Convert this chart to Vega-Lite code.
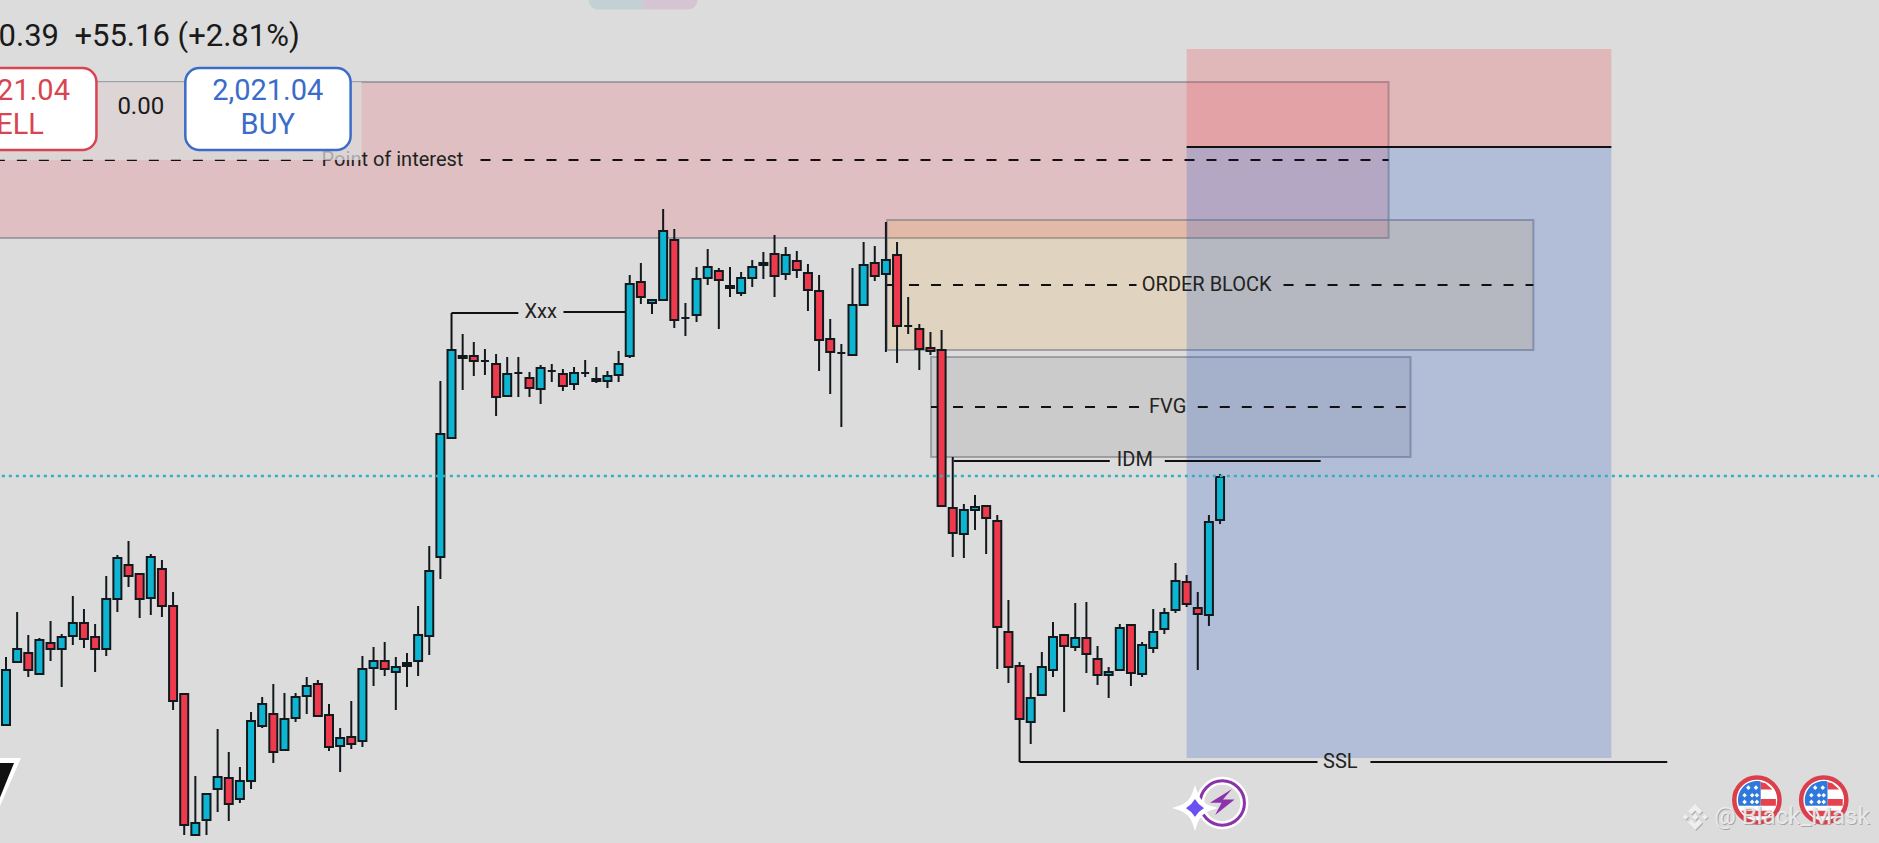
{"$schema":"https://vega.github.io/schema/vega-lite/v6.json","width":1879,"height":843,"padding":0,"autosize":{"type":"none"},"background":"#dcdcdc","config":{"view":{"stroke":null},"text":{"font":"Roboto"}},
"datasets":{
"zones":[{"zone":"Point of interest","x":-1,"x2":124.13,"y":2060.4,"y2":2044.8},{"zone":"Order block","x":79.1,"x2":137.13,"y":2046.6,"y2":2033.6},{"zone":"FVG","x":83.05,"x2":126.1,"y":2032.9,"y2":2022.9},{"zone":"Stop","x":106,"x2":144.13,"y":2063.7,"y2":2053.9},{"zone":"Target","x":106,"x2":144.13,"y":2053.9,"y2":1992.8}],
"dashed":[{"x":-1,"x2":27.7,"y":2052.6},{"x":42.6,"x2":124.13,"y":2052.6},{"x":79.1,"x2":101.5,"y":2040.1},{"x":114.7,"x2":137.13,"y":2040.1},{"x":83.05,"x2":101.8,"y":2027.9},{"x":107,"x2":126.1,"y":2027.9}],
"solid":[{"x":40,"x2":46,"y":2037.3},{"x":50.05,"x2":55.6,"y":2037.4},{"x":85.1,"x2":99.1,"y":2022.5},{"x":104.04,"x2":118.03,"y":2022.5},{"x":91,"x2":117.75,"y":1992.4},{"x":122.5,"x2":149.15,"y":1992.4},{"x":106,"x2":144.13,"y":2053.9}],
"vertical":[{"x":40,"y":2037.3,"y2":2033.6},{"x":85,"y":2022.9,"y2":2017.8},{"x":91,"y":1996.7,"y2":1992.4}],
"labels":[{"x":34.7,"y":2052.6,"t":"Point of interest"},{"x":48,"y":2037.4,"t":"Xxx"},{"x":101.35,"y":2022.6,"t":"IDM"},{"x":107.8,"y":2040.1,"t":"ORDER BLOCK"},{"x":104.3,"y":2027.9,"t":"FVG"},{"x":119.8,"y":1992.4,"t":"SSL"}],
"price":[{"x":-1,"x2":170,"y":2021.0}],
"panel":[{"x":-1,"x2":31.93,"y":2060.4,"y2":2052.6}],
"sellBox":[{"x":-3,"x2":8.12,"y":2061.8,"y2":2053.6}],
"buyBox":[{"x":16.1,"x2":30.94,"y":2061.8,"y2":2053.6}],
"pillA":[{"x":52.3,"x2":57.2,"y":2071,"y2":2067.65}],
"pillB":[{"x":57.2,"x2":62.1,"y":2071,"y2":2067.65}],
"header":[{"x":26.37,"y":2064.9,"t":"0.39\u00a0\u00a0+55.16 (+2.81%)"}],
"spread":[{"x":12.1,"y":2057.9,"t":"0.00"}],
"sellText":[{"x":5.74,"y":2059.5,"t":"21.04"},{"x":3.41,"y":2056.1,"t":"ELL"}],
"buyText":[{"x":23.5,"y":2059.5,"t":"2,021.04"},{"x":23.5,"y":2056.1,"t":"BUY"}],
"flags":[{"x":157.2,"y":1988.6},{"x":163.2,"y":1988.6}],
"ring":[{"x":109.2,"y":1988.3}],
"bolt":[{"x":109.2,"y":1988.4}],
"star":[{"x":106.75,"y":1987.8}],
"corner":[{"x":-0.448,"y":1990.6}],
"logo":[{"x":151.66,"y":1986.9}],
"mark":[{"x":153.36,"y":1986.9,"t":"@ Black_Mask"}],
"candles":[
{"x":0,"o":1996.1,"c":2001.6,"h":2002.9,"l":1996.1,"d":"up"},
{"x":1,"o":2002.4,"c":2003.7,"h":2007.4,"l":2002.4,"d":"up"},
{"x":2,"o":2003.3,"c":2001.6,"h":2005.1,"l":2000.9,"d":"down"},
{"x":3,"o":2001.2,"c":2004.6,"h":2004.8,"l":2001.1,"d":"up"},
{"x":4,"o":2004.3,"c":2003.7,"h":2006.5,"l":2002.5,"d":"down"},
{"x":5,"o":2003.7,"c":2004.9,"h":2005.2,"l":1999.9,"d":"up"},
{"x":6,"o":2005.0,"c":2006.3,"h":2009.0,"l":2004.1,"d":"up"},
{"x":7,"o":2006.3,"c":2004.7,"h":2007.7,"l":2003.8,"d":"down"},
{"x":8,"o":2004.9,"c":2003.7,"h":2006.2,"l":2001.4,"d":"down"},
{"x":9,"o":2003.7,"c":2008.7,"h":2011.0,"l":2003.0,"d":"up"},
{"x":10,"o":2008.7,"c":2012.8,"h":2013.1,"l":2007.4,"d":"up"},
{"x":11,"o":2012.1,"c":2011.0,"h":2014.5,"l":2009.9,"d":"down"},
{"x":12,"o":2011.2,"c":2008.7,"h":2011.2,"l":2006.8,"d":"down"},
{"x":13,"o":2008.8,"c":2012.9,"h":2013.2,"l":2007.1,"d":"up"},
{"x":14,"o":2011.7,"c":2008.0,"h":2012.6,"l":2006.9,"d":"down"},
{"x":15,"o":2008.0,"c":1998.5,"h":2009.4,"l":1997.6,"d":"down"},
{"x":16,"o":1999.2,"c":1986.1,"h":1999.2,"l":1985.1,"d":"down"},
{"x":17,"o":1985.1,"c":1986.3,"h":1991.0,"l":1985.1,"d":"up"},
{"x":18,"o":1986.6,"c":1989.2,"h":1989.2,"l":1985.1,"d":"up"},
{"x":19,"o":1989.7,"c":1990.9,"h":1995.7,"l":1987.4,"d":"up"},
{"x":20,"o":1990.8,"c":1988.2,"h":1993.4,"l":1986.5,"d":"down"},
{"x":21,"o":1988.7,"c":1990.5,"h":1991.9,"l":1988.3,"d":"up"},
{"x":22,"o":1990.5,"c":1996.5,"h":1997.4,"l":1989.7,"d":"up"},
{"x":23,"o":1996.0,"c":1998.2,"h":1998.9,"l":1995.8,"d":"up"},
{"x":24,"o":1997.2,"c":1993.4,"h":2000.2,"l":1992.3,"d":"down"},
{"x":25,"o":1993.6,"c":1996.7,"h":1999.3,"l":1993.6,"d":"up"},
{"x":26,"o":1996.8,"c":1998.9,"h":1999.3,"l":1996.4,"d":"up"},
{"x":27,"o":1999.0,"c":2000.0,"h":2000.9,"l":1997.2,"d":"up"},
{"x":28,"o":2000.2,"c":1997.0,"h":2000.6,"l":1997.0,"d":"down"},
{"x":29,"o":1997.1,"c":1993.9,"h":1998.2,"l":1993.5,"d":"down"},
{"x":30,"o":1994.0,"c":1994.8,"h":1995.8,"l":1991.4,"d":"up"},
{"x":31,"o":1994.9,"c":1994.2,"h":1998.5,"l":1993.7,"d":"down"},
{"x":32,"o":1994.5,"c":2001.7,"h":2003.0,"l":1993.9,"d":"up"},
{"x":33,"o":2001.8,"c":2002.5,"h":2003.9,"l":2000.0,"d":"up"},
{"x":34,"o":2002.5,"c":2001.7,"h":2004.4,"l":2001.0,"d":"down"},
{"x":35,"o":2001.4,"c":2001.9,"h":2002.9,"l":1997.6,"d":"up"},
{"x":36,"o":2002.3,"c":2002.0,"h":2003.3,"l":1999.9,"d":"flat"},
{"x":37,"o":2002.5,"c":2005.1,"h":2008.0,"l":2001.0,"d":"up"},
{"x":38,"o":2005.0,"c":2011.5,"h":2014.0,"l":2003.1,"d":"up"},
{"x":39,"o":2012.9,"c":2025.2,"h":2030.5,"l":2010.7,"d":"up"},
{"x":40,"o":2024.8,"c":2033.6,"h":2033.6,"l":2024.7,"d":"up"},
{"x":41,"o":2033.0,"c":2032.8,"h":2035.2,"l":2029.6,"d":"flat"},
{"x":42,"o":2033.0,"c":2032.5,"h":2034.4,"l":2031.0,"d":"down"},
{"x":43,"o":2032.5,"c":2032.5,"h":2033.7,"l":2031.1,"d":"flat"},
{"x":44,"o":2032.2,"c":2028.9,"h":2033.2,"l":2027.0,"d":"down"},
{"x":45,"o":2029.0,"c":2031.2,"h":2032.9,"l":2029.0,"d":"up"},
{"x":46,"o":2031.3,"c":2031.3,"h":2032.9,"l":2028.9,"d":"flat"},
{"x":47,"o":2030.8,"c":2029.8,"h":2031.4,"l":2028.9,"d":"down"},
{"x":48,"o":2029.7,"c":2031.8,"h":2032.1,"l":2028.2,"d":"up"},
{"x":49,"o":2031.5,"c":2031.5,"h":2032.2,"l":2030.4,"d":"flat"},
{"x":50,"o":2031.2,"c":2030.0,"h":2031.7,"l":2029.5,"d":"down"},
{"x":51,"o":2030.2,"c":2031.3,"h":2031.9,"l":2029.6,"d":"up"},
{"x":52,"o":2031.3,"c":2031.3,"h":2032.6,"l":2030.9,"d":"flat"},
{"x":53,"o":2030.7,"c":2030.5,"h":2031.9,"l":2030.3,"d":"flat"},
{"x":54,"o":2030.5,"c":2031.0,"h":2031.5,"l":2029.8,"d":"up"},
{"x":55,"o":2031.1,"c":2032.2,"h":2033.5,"l":2030.4,"d":"up"},
{"x":56,"o":2033.0,"c":2040.2,"h":2041.1,"l":2032.8,"d":"up"},
{"x":57,"o":2040.4,"c":2038.9,"h":2042.3,"l":2038.2,"d":"down"},
{"x":58,"o":2038.3,"c":2038.6,"h":2038.6,"l":2037.2,"d":"up"},
{"x":59,"o":2038.6,"c":2045.5,"h":2047.7,"l":2038.6,"d":"up"},
{"x":60,"o":2044.6,"c":2036.6,"h":2045.7,"l":2035.8,"d":"down"},
{"x":61,"o":2036.8,"c":2036.8,"h":2038.3,"l":2035.0,"d":"flat"},
{"x":62,"o":2037.1,"c":2040.7,"h":2041.9,"l":2036.4,"d":"up"},
{"x":63,"o":2040.8,"c":2041.9,"h":2043.7,"l":2040.1,"d":"up"},
{"x":64,"o":2041.5,"c":2040.6,"h":2041.8,"l":2035.7,"d":"down"},
{"x":65,"o":2040.0,"c":2039.8,"h":2041.9,"l":2038.9,"d":"flat"},
{"x":66,"o":2039.3,"c":2040.8,"h":2041.4,"l":2039.0,"d":"up"},
{"x":67,"o":2040.8,"c":2041.9,"h":2042.6,"l":2039.9,"d":"up"},
{"x":68,"o":2042.3,"c":2042.1,"h":2043.4,"l":2040.7,"d":"flat"},
{"x":69,"o":2043.2,"c":2041.0,"h":2045.1,"l":2038.9,"d":"down"},
{"x":70,"o":2041.2,"c":2043.1,"h":2043.9,"l":2040.6,"d":"up"},
{"x":71,"o":2042.5,"c":2041.6,"h":2043.5,"l":2040.8,"d":"down"},
{"x":72,"o":2041.3,"c":2039.6,"h":2042.2,"l":2037.5,"d":"down"},
{"x":73,"o":2039.5,"c":2034.6,"h":2041.1,"l":2031.5,"d":"down"},
{"x":74,"o":2034.7,"c":2033.4,"h":2036.7,"l":2029.2,"d":"down"},
{"x":75,"o":2033.3,"c":2033.3,"h":2034.2,"l":2025.9,"d":"flat"},
{"x":76,"o":2033.1,"c":2038.1,"h":2041.8,"l":2033.1,"d":"up"},
{"x":77,"o":2038.1,"c":2042.1,"h":2044.4,"l":2038.1,"d":"up"},
{"x":78,"o":2042.3,"c":2041.0,"h":2044.0,"l":2040.5,"d":"down"},
{"x":79,"o":2041.2,"c":2042.6,"h":2046.4,"l":2033.4,"d":"up"},
{"x":80,"o":2043.1,"c":2036.0,"h":2044.4,"l":2032.3,"d":"down"},
{"x":81,"o":2036.0,"c":2036.0,"h":2038.9,"l":2035.2,"d":"flat"},
{"x":82,"o":2035.7,"c":2033.7,"h":2036.2,"l":2031.6,"d":"down"},
{"x":83,"o":2033.8,"c":2033.5,"h":2035.4,"l":2033.1,"d":"down"},
{"x":84,"o":2033.6,"c":2018.0,"h":2035.6,"l":2018.0,"d":"down"},
{"x":85,"o":2017.8,"c":2015.3,"h":2017.8,"l":2012.9,"d":"down"},
{"x":86,"o":2015.2,"c":2017.6,"h":2018.2,"l":2012.8,"d":"up"},
{"x":87,"o":2017.6,"c":2017.9,"h":2019.1,"l":2015.6,"d":"up"},
{"x":88,"o":2018.0,"c":2016.8,"h":2018.0,"l":2013.2,"d":"down"},
{"x":89,"o":2016.5,"c":2005.9,"h":2017.1,"l":2001.7,"d":"down"},
{"x":90,"o":2005.4,"c":2001.9,"h":2008.6,"l":2000.3,"d":"down"},
{"x":91,"o":2002.0,"c":1996.7,"h":2002.4,"l":1996.7,"d":"down"},
{"x":92,"o":1996.4,"c":1998.8,"h":2001.3,"l":1994.2,"d":"up"},
{"x":93,"o":1999.1,"c":2001.9,"h":2003.4,"l":1999.1,"d":"up"},
{"x":94,"o":2001.6,"c":2004.9,"h":2006.4,"l":2000.9,"d":"up"},
{"x":95,"o":2005.1,"c":2004.0,"h":2005.1,"l":1997.4,"d":"down"},
{"x":96,"o":2003.9,"c":2004.8,"h":2008.3,"l":2003.5,"d":"up"},
{"x":97,"o":2004.8,"c":2003.2,"h":2008.4,"l":2001.3,"d":"down"},
{"x":98,"o":2002.7,"c":2001.1,"h":2004.0,"l":2000.1,"d":"down"},
{"x":99,"o":2001.1,"c":2001.4,"h":2001.9,"l":1998.8,"d":"up"},
{"x":100,"o":2001.6,"c":2005.8,"h":2006.2,"l":2001.6,"d":"up"},
{"x":101,"o":2006.1,"c":2001.3,"h":2006.1,"l":2000.0,"d":"down"},
{"x":102,"o":2001.2,"c":2004.1,"h":2004.4,"l":2000.9,"d":"up"},
{"x":103,"o":2003.8,"c":2005.4,"h":2007.7,"l":2003.3,"d":"up"},
{"x":104,"o":2005.7,"c":2007.3,"h":2007.8,"l":2005.2,"d":"up"},
{"x":105,"o":2007.6,"c":2010.5,"h":2012.3,"l":2007.3,"d":"up"},
{"x":106,"o":2010.4,"c":2008.2,"h":2011.1,"l":2007.9,"d":"down"},
{"x":107,"o":2007.8,"c":2007.2,"h":2009.4,"l":2001.6,"d":"down"},
{"x":108,"o":2007.1,"c":2016.4,"h":2017.1,"l":2006.0,"d":"up"},
{"x":109,"o":2016.6,"c":2020.9,"h":2021.2,"l":2016.2,"d":"up"}
]},
"encoding":{
"x":{"field":"x","type":"quantitative","axis":null,"scale":{"domain":[-0.0897,167.713],"nice":false,"zero":false}},
"y":{"field":"y","type":"quantitative","axis":null,"scale":{"domain":[1984.3,2068.6],"nice":false,"zero":false}}
},
"layer":[
{"data":{"name":"zones"},"mark":{"type":"rect","strokeWidth":2},"encoding":{"x2":{"field":"x2"},"y2":{"field":"y2"},
"fill":{"field":"zone","type":"nominal","legend":null,"scale":{"domain":["Point of interest","Order block","FVG","Stop","Target"],"range":["rgba(240,60,70,0.18)","rgba(255,152,0,0.13)","rgba(120,120,120,0.17)","rgba(240,60,70,0.22)","rgba(40,90,205,0.23)"]}},
"stroke":{"field":"zone","type":"nominal","legend":null,"scale":{"domain":["Point of interest","Order block","FVG","Stop","Target"],"range":["rgba(120,123,134,0.6)","rgba(120,123,134,0.6)","rgba(120,123,134,0.6)","rgba(0,0,0,0)","rgba(0,0,0,0)"]}}}},
{"data":{"name":"dashed"},"mark":{"type":"rule","color":"#111111","strokeWidth":2,"strokeDash":[10,12]},"encoding":{"x2":{"field":"x2"}}},
{"data":{"name":"solid"},"mark":{"type":"rule","color":"#111111","strokeWidth":2},"encoding":{"x2":{"field":"x2"}}},
{"data":{"name":"vertical"},"mark":{"type":"rule","color":"#111111","strokeWidth":2},"encoding":{"y2":{"field":"y2"}}},
{"data":{"name":"labels"},"mark":{"type":"text","font":"Roboto","fontSize":20,"color":"#222222","baseline":"middle","align":"center"},"encoding":{"text":{"field":"t"}}},
{"data":{"name":"candles"},"mark":{"type":"rule","color":"#12191d","strokeWidth":2},"encoding":{"y":{"field":"h","type":"quantitative","axis":null,"scale":{"domain":[1984.3,2068.6],"nice":false,"zero":false}},"y2":{"field":"l"}}},
{"data":{"name":"candles"},"mark":{"type":"bar","size":8,"stroke":"#12191d","strokeWidth":2,"opacity":1},"encoding":{"y":{"field":"o","type":"quantitative","axis":null,"scale":{"domain":[1984.3,2068.6],"nice":false,"zero":false}},"y2":{"field":"c"},"color":{"field":"d","type":"nominal","legend":null,"scale":{"domain":["up","down","flat"],"range":["#0db5d2","#ee3a4c","#12191d"]}}}},
{"data":{"name":"price"},"mark":{"type":"rule","color":"#35aebe","strokeWidth":2.5,"strokeDash":[3,4]},"encoding":{"x2":{"field":"x2"}}},
{"data":{"name":"panel"},"mark":{"type":"rect","fill":"#dcdcdc","opacity":0.72},"encoding":{"x2":{"field":"x2"},"y2":{"field":"y2"}}},
{"data":{"name":"sellBox"},"mark":{"type":"rect","fill":"#ffffff","stroke":"#d84450","strokeWidth":2.5,"cornerRadius":14},"encoding":{"x2":{"field":"x2"},"y2":{"field":"y2"}}},
{"data":{"name":"buyBox"},"mark":{"type":"rect","fill":"#ffffff","stroke":"#3a6cc8","strokeWidth":2.5,"cornerRadius":14},"encoding":{"x2":{"field":"x2"},"y2":{"field":"y2"}}},
{"data":{"name":"pillA"},"mark":{"type":"rect","fill":"#c2d2d4","cornerRadiusBottomLeft":10},"encoding":{"x2":{"field":"x2"},"y2":{"field":"y2"}}},
{"data":{"name":"pillB"},"mark":{"type":"rect","fill":"#d5c5d3","cornerRadiusBottomRight":10},"encoding":{"x2":{"field":"x2"},"y2":{"field":"y2"}}},
{"data":{"name":"header"},"mark":{"type":"text","font":"Roboto","fontSize":31,"color":"#1a1a1a","baseline":"middle","align":"right"},"encoding":{"text":{"field":"t"}}},
{"data":{"name":"spread"},"mark":{"type":"text","font":"Roboto","fontSize":24,"color":"#1a1a1a","baseline":"middle","align":"center"},"encoding":{"text":{"field":"t"}}},
{"data":{"name":"sellText"},"mark":{"type":"text","font":"Roboto","fontSize":29,"color":"#d84450","baseline":"middle","align":"right"},"encoding":{"text":{"field":"t"}}},
{"data":{"name":"buyText"},"mark":{"type":"text","font":"Roboto","fontSize":29,"color":"#3a6cc8","baseline":"middle","align":"center"},"encoding":{"text":{"field":"t"}}},
{"data":{"name":"corner"},"mark":{"type":"point","filled":true,"opacity":1,"color":"#ffffff","size":2500,"shape":"M-1,-0.88 L0.8,-0.88 L-0.2,1.4 L-1,1.4 Z"}},
{"data":{"name":"corner"},"mark":{"type":"point","filled":true,"opacity":1,"color":"#111111","size":2500,"shape":"M-1,-0.68 L0.52,-0.68 L-0.1,0.85 L-1,0.85 Z"}},
{"data":{"name":"ring"},"mark":{"type":"point","filled":false,"opacity":1,"color":"#ffffff","strokeWidth":8,"shape":"circle","size":1963}},
{"data":{"name":"ring"},"mark":{"type":"point","filled":false,"opacity":1,"color":"#8a33ab","strokeWidth":3,"shape":"circle","size":1963}},
{"data":{"name":"bolt"},"mark":{"type":"point","filled":true,"opacity":1,"color":"#8a33ab","size":676,"shape":"M0.75,-1 L-0.95,0.05 L-0.05,0.05 L-0.55,1 L0.95,-0.2 L0.05,-0.2 Z"}},
{"data":{"name":"star"},"mark":{"type":"point","filled":true,"opacity":1,"fill":"#6b52f0","stroke":"#ffffff","strokeWidth":5,"size":900,"shape":"M0,-1 Q0.25,-0.25 1,0 Q0.25,0.25 0,1 Q-0.25,0.25 -1,0 Q-0.25,-0.25 0,-1 Z"}},
{"data":{"name":"flags"},"mark":{"type":"point","filled":true,"opacity":1,"fill":"#ffffff","stroke":"#dc3f4c","strokeWidth":4.5,"shape":"circle","size":2043}},
{"data":{"name":"flags"},"mark":{"type":"point","filled":true,"opacity":1,"color":"#e8414e","size":1444,"shape":"M0.2,-0.95 L0.45,-0.88 L0.82,-0.55 L0.2,-0.55 Z M0.2,-0.05 L1,-0.05 L1,0.3 L0.2,0.3 Z M-0.82,0.57 L0.82,0.57 L0.55,0.85 L-0.55,0.85 Z"}},
{"data":{"name":"flags"},"mark":{"type":"point","filled":true,"opacity":1,"color":"#2f78dc","size":1444,"shape":"M0.2,-0.98 L0.2,0.3 L-0.95,0.3 A1,1 0 0 1 0.2,-0.98 Z"}},
{"data":{"name":"flags"},"mark":{"type":"point","filled":true,"opacity":1,"color":"#ffffff","size":1444,"shape":"M-0.45,-0.77 L-0.33,-0.65 L-0.45,-0.53 L-0.57,-0.65 Z M-0.05,-0.77 L0.07,-0.65 L-0.05,-0.53 L-0.17,-0.65 Z M-0.65,-0.37 L-0.53,-0.25 L-0.65,-0.13 L-0.77,-0.25 Z M-0.25,-0.37 L-0.13,-0.25 L-0.25,-0.13 L-0.37,-0.25 Z M0,-0.37 L0.12,-0.25 L0,-0.13 L-0.12,-0.25 Z M-0.65,-0.02 L-0.53,0.1 L-0.65,0.22 L-0.77,0.1 Z M-0.25,-0.02 L-0.13,0.1 L-0.25,0.22 L-0.37,0.1 Z M0,-0.02 L0.12,0.1 L0,0.22 L-0.12,0.1 Z"}},
{"data":{"name":"logo"},"mark":{"type":"point","filled":true,"opacity":0.9,"color":"#a8a8a8","size":676,"xOffset":1,"yOffset":1,"shape":"M0,-1 L0.55,-0.45 L0.3,-0.2 L0,-0.5 L-0.3,-0.2 L-0.55,-0.45 Z M0,1 L0.55,0.45 L0.3,0.2 L0,0.5 L-0.3,0.2 L-0.55,0.45 Z M0,-0.25 L0.25,0 L0,0.25 L-0.25,0 Z M-0.75,-0.22 L-0.53,0 L-0.75,0.22 L-0.97,0 Z M0.75,-0.22 L0.97,0 L0.75,0.22 L0.53,0 Z"}},
{"data":{"name":"logo"},"mark":{"type":"point","filled":true,"opacity":1,"color":"#efefef","size":676,"shape":"M0,-1 L0.55,-0.45 L0.3,-0.2 L0,-0.5 L-0.3,-0.2 L-0.55,-0.45 Z M0,1 L0.55,0.45 L0.3,0.2 L0,0.5 L-0.3,0.2 L-0.55,0.45 Z M0,-0.25 L0.25,0 L0,0.25 L-0.25,0 Z M-0.75,-0.22 L-0.53,0 L-0.75,0.22 L-0.97,0 Z M0.75,-0.22 L0.97,0 L0.75,0.22 L0.53,0 Z"}},
{"data":{"name":"mark"},"mark":{"type":"text","font":"Roboto","fontSize":24,"color":"#9a9a9a","opacity":0.8,"baseline":"middle","align":"left","dx":1,"dy":1},"encoding":{"text":{"field":"t"}}},
{"data":{"name":"mark"},"mark":{"type":"text","font":"Roboto","fontSize":24,"color":"#eeeeee","opacity":0.9,"baseline":"middle","align":"left"},"encoding":{"text":{"field":"t"}}}
]}
